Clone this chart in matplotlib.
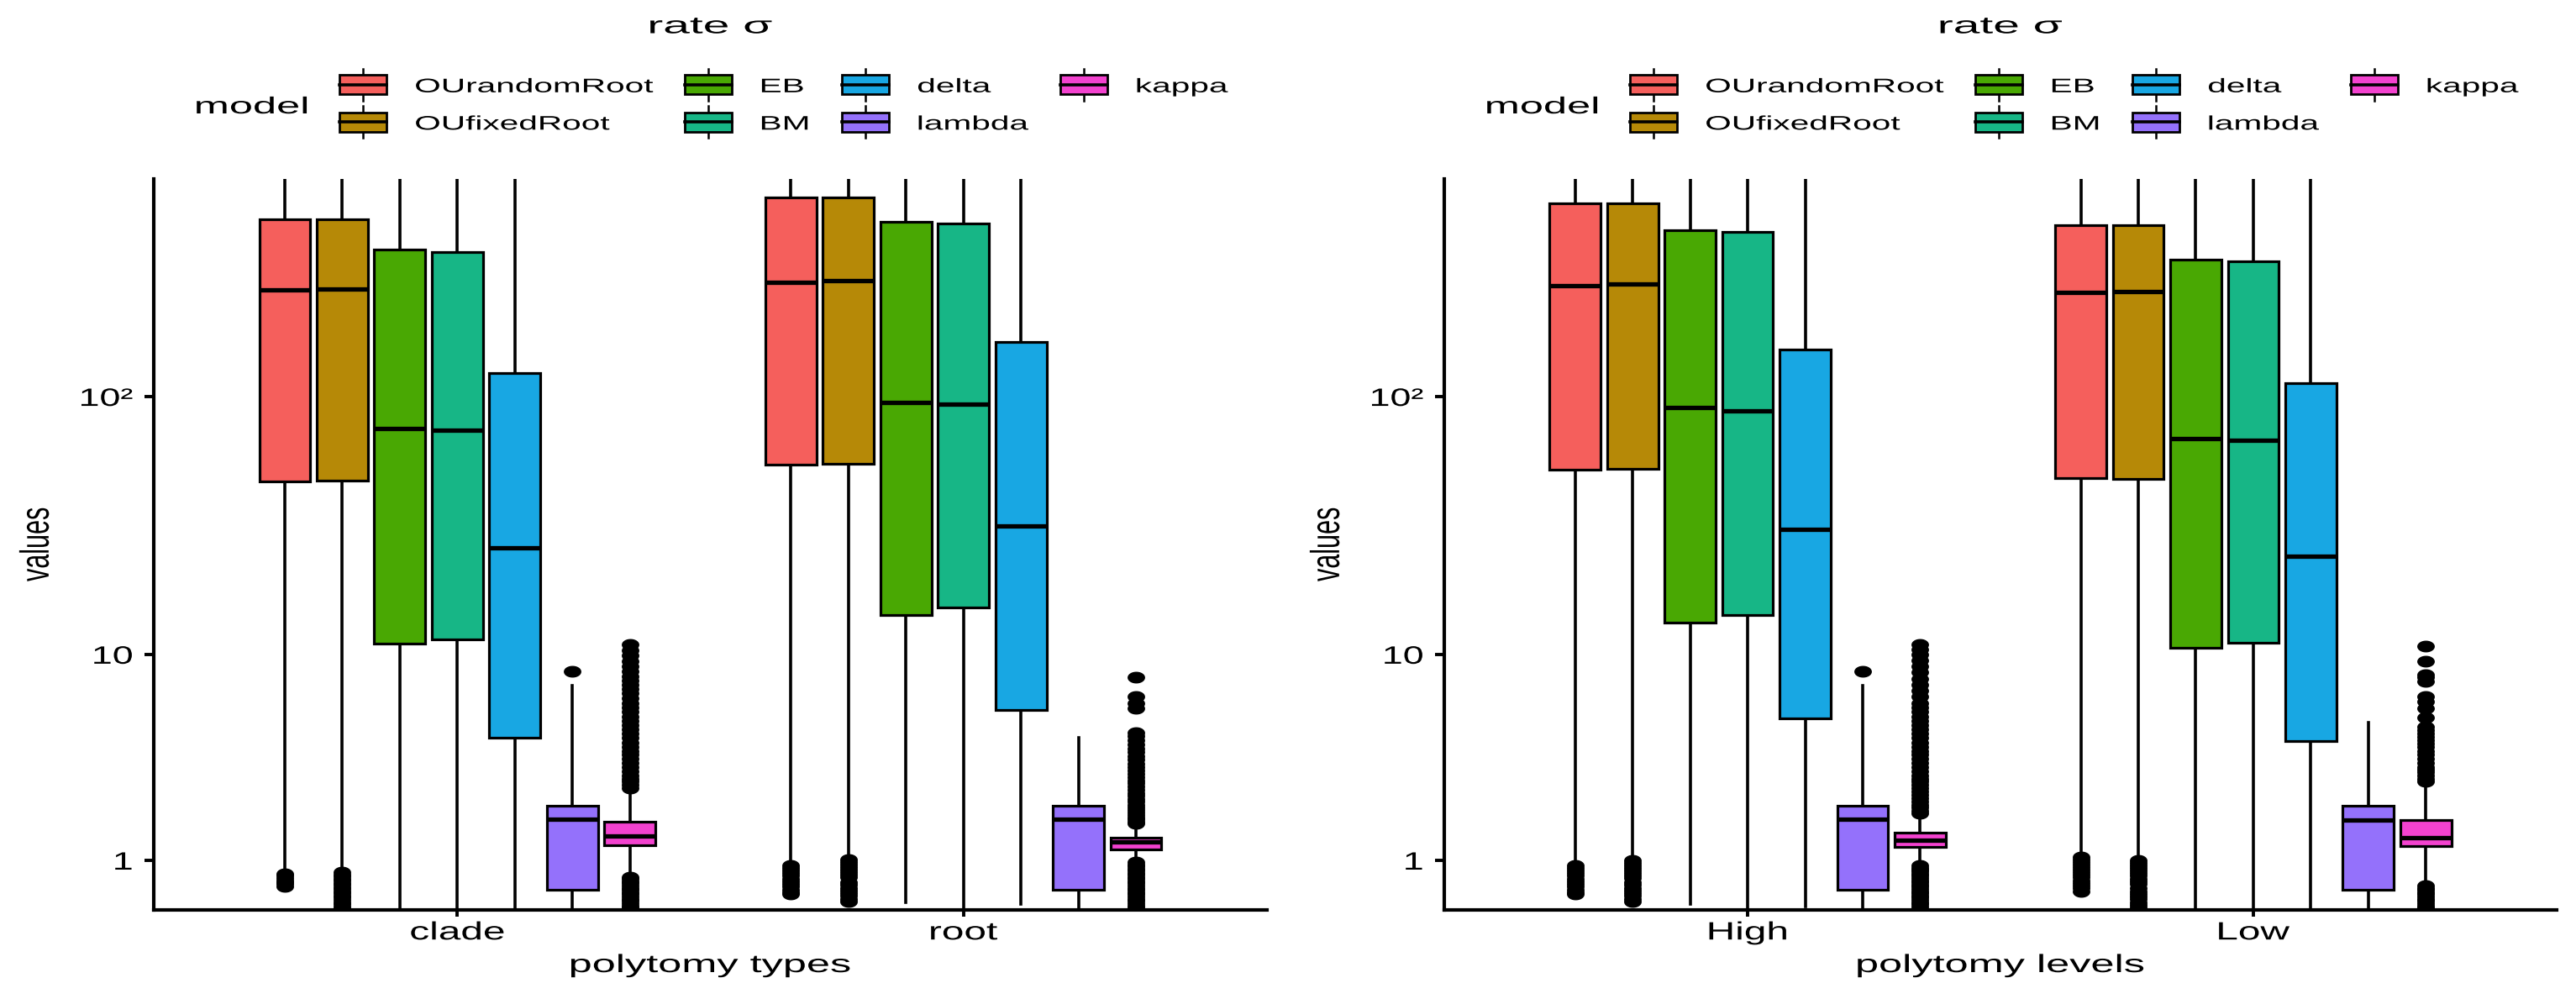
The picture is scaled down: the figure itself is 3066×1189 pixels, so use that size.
import numpy as np
import matplotlib
matplotlib.use("Agg")
import matplotlib.pyplot as plt
from matplotlib.patheffects import AbstractPathEffect
from matplotlib.transforms import Affine2D
from matplotlib.path import Path
from matplotlib.patches import Rectangle
from matplotlib.lines import Line2D
from matplotlib.ticker import NullLocator

W, H = 3066, 1189

# ------------------------------------------------------------------ data
models = ["OUrandomRoot", "OUfixedRoot", "EB", "BM", "delta", "lambda", "kappa"]
colors = ["#F55F5C", "#B68907", "#49A803", "#17B686", "#18A7E3", "#9471FB", "#F342CF"]

left_cats = ["clade", "root"]
right_cats = ["High", "Low"]
y_ticks = [1, 10, 100]
y_ticklabels = ["1", "10", "10\u00b2"]

# whisker ends beyond the visible range are given as 2000 (top) / 0.01 (bottom)
clade_q1 = [46.9, 47.5, 11.0, 11.5, 4.61, 0.45, 1.31]
clade_med = [258, 260, 75.3, 74.2, 26.1, 1.91, 1.52]
clade_q3 = [485, 485, 369, 363, 123, 2.24, 1.85]
clade_lo = [0.77, 0.80, 0.01, 0.01, 0.01, 0.01, 0.71]
clade_hi = [2000, 2000, 2000, 2000, 2000, 7.52, 2.65]
clade_fliers = [
    [0.74, 0.70, 0.66, 0.62, 0.58, 0.55, 0.51],
    [0.77, 0.73, 0.69, 0.65, 0.61, 0.57, 0.53, 0.49, 0.46, 0.42, 0.38, 0.34,
     0.30, 0.26, 0.22, 0.18, 0.14, 0.11],
    [], [], [],
    [8.61],
    [2.75, 2.85, 2.95, 3.05, 3.15, 3.3, 3.45, 3.6, 3.75, 3.9, 4.05, 4.2, 4.4,
     4.6, 4.8, 5.0, 5.2, 5.4, 5.65, 5.9, 6.15, 6.4, 6.7, 7.0, 7.3, 7.6, 7.9,
     8.2, 8.6, 9.0, 9.4, 9.9, 10.4, 10.95,
     0.68, 0.64, 0.60, 0.56, 0.52, 0.48, 0.44, 0.40, 0.36, 0.32, 0.28, 0.24,
     0.20, 0.16, 0.12, 0.09],
]

root_q1 = [54.6, 55.0, 14.29, 15.28, 6.02, 0.45, 1.23]
root_med = [276, 280, 94.9, 93.5, 31.7, 1.91, 1.38]
root_q3 = [589, 589, 473, 467, 163, 2.24, 1.47]
root_lo = [0.93, 1.05, 0.21, 0.01, 0.19, 0.01, 0.99]
root_hi = [2000, 2000, 2000, 2000, 2000, 4.62, 1.77]
root_fliers = [
    [0.90, 0.85, 0.80, 0.75, 0.70, 0.65, 0.60, 0.55, 0.50, 0.45, 0.40, 0.37],
    [1.02, 0.97, 0.92, 0.87, 0.82, 0.77, 0.72, 0.67, 0.58, 0.53, 0.48, 0.43,
     0.38, 0.33, 0.28, 0.23],
    [], [], [], [],
    [1.80, 1.85, 1.9, 1.95, 2.0, 2.07, 2.14, 2.21, 2.28, 2.36, 2.44, 2.52,
     2.6, 2.7, 2.8, 2.9, 3.0, 3.1, 3.2, 3.32, 3.44, 3.56, 3.7, 3.85, 4.0,
     4.15, 4.3, 4.5, 4.7, 4.85, 6.1, 6.4, 6.8, 8.1,
     0.96, 0.92, 0.88, 0.84, 0.80, 0.76, 0.72, 0.68, 0.64, 0.60, 0.56, 0.52,
     0.48, 0.44, 0.40, 0.36, 0.32, 0.28, 0.24, 0.20, 0.16, 0.13],
]

high_q1 = [52.2, 52.5, 13.3, 14.3, 5.55, 0.45, 1.27]
high_med = [268, 272, 90.7, 88.1, 30.7, 1.91, 1.42]
high_q3 = [558, 558, 440, 433, 152, 2.24, 1.58]
high_lo = [0.93, 1.02, 0.19, 0.01, 0.14, 0.01, 0.93]
high_hi = [2000, 2000, 2000, 2000, 2000, 7.52, 2.02]
high_fliers = [
    [0.90, 0.85, 0.80, 0.75, 0.70, 0.65, 0.60, 0.55, 0.50, 0.45, 0.40, 0.37],
    [1.00, 0.95, 0.90, 0.85, 0.80, 0.75, 0.70, 0.66, 0.58, 0.53, 0.48, 0.43,
     0.38, 0.33, 0.28, 0.23],
    [], [], [],
    [8.61],
    [2.05, 2.12, 2.2, 2.28, 2.36, 2.45, 2.55, 2.65, 2.75, 2.85, 2.95, 3.05,
     3.15, 3.3, 3.45, 3.6, 3.75, 3.9, 4.05, 4.2, 4.4, 4.6, 4.8, 5.0, 5.2,
     5.4, 5.65, 5.9, 6.15, 6.4, 6.8, 7.2, 7.6, 8.0, 8.5, 9.0, 9.5, 10.0,
     10.5, 10.95,
     0.90, 0.86, 0.82, 0.78, 0.74, 0.70, 0.66, 0.62, 0.58, 0.54, 0.50, 0.46,
     0.42, 0.38, 0.34, 0.30, 0.26, 0.22, 0.18, 0.14, 0.10],
]

low_q1 = [48.5, 48.0, 10.6, 11.16, 4.47, 0.45, 1.30]
low_med = [252.6, 255, 68.9, 67.8, 24.2, 1.88, 1.48]
low_q3 = [459.5, 460, 338, 333, 113, 2.24, 1.88]
low_lo = [1.09, 1.02, 0.01, 0.01, 0.01, 0.01, 0.555]
low_hi = [2000, 2000, 2000, 2000, 2000, 5.33, 2.91]
low_fliers = [
    [1.07, 1.02, 0.97, 0.92, 0.87, 0.82, 0.77, 0.72, 0.67, 0.62, 0.57, 0.52,
     0.47, 0.42],
    [1.00, 0.95, 0.90, 0.85, 0.80, 0.75, 0.70, 0.65, 0.60, 0.55, 0.47, 0.42,
     0.37, 0.32, 0.27, 0.22, 0.17, 0.12],
    [], [], [], [],
    [2.95, 3.05, 3.15, 3.25, 3.35, 3.45, 3.6, 3.75, 3.9, 4.05, 4.2, 4.35,
     4.5, 4.65, 4.8, 4.95, 5.1, 5.57, 6.1, 6.5, 6.8, 7.8, 8.1, 8.35, 9.37,
     10.8,
     0.52, 0.48, 0.44, 0.40, 0.36, 0.32, 0.28, 0.24, 0.20, 0.16, 0.12, 0.09],
]

# ------------------------------------------------------------------ styling helpers
plt.rcParams["font.family"] = ["Liberation Sans", "DejaVu Sans"]


class HStretch(AbstractPathEffect):
    """Stretch rendered glyphs horizontally (the reference image is widened)."""

    def __init__(self, sx, anchor="center"):
        super().__init__()
        self.sx = sx
        self.anchor = anchor

    def draw_path(self, renderer, gc, tpath, affine, rgbFace=None):
        ext = tpath.get_extents(affine)
        if self.anchor == "left":
            cx = ext.x0
        elif self.anchor == "right":
            cx = ext.x1
        else:
            cx = 0.5 * (ext.x0 + ext.x1)
        aff = affine + Affine2D().translate(-cx, 0).scale(self.sx, 1.0).translate(cx, 0)
        renderer.draw_path(gc, tpath, aff, rgbFace)


theta = np.linspace(0, 2 * np.pi, 49)
ellipse = Path(np.column_stack([np.cos(theta), np.sin(theta) / 1.55]), closed=True)

SLOT = 0.1137
BOXW = 0.101

fig = plt.figure(figsize=(W / 100, H / 100), dpi=100)
fig.patch.set_facecolor("white")


def px_rect(x0, y0, x1, y1):
    return [x0 / W, 1 - y1 / H, (x1 - x0) / W, (y1 - y0) / H]


def draw_panel(x0, x1, cats, groups, xlabel):
    ax = fig.add_axes(px_rect(x0, 213, x1, 1083))
    ax.set_yscale("asinh", linear_width=2)
    for ci, (q1, med, q3, lo, hi, fl) in enumerate(groups):
        stats = [dict(q1=q1[i], med=med[i], q3=q3[i], whislo=lo[i], whishi=hi[i],
                      fliers=np.array(fl[i], dtype=float)) for i in range(len(models))]
        pos = [ci + 1 + (i - 3) * SLOT for i in range(len(models))]
        bp = ax.bxp(stats, positions=pos, widths=BOXW, patch_artist=True,
                    showcaps=False, manage_ticks=False,
                    boxprops=dict(edgecolor="black", linewidth=2.3, zorder=3),
                    medianprops=dict(color="black", linewidth=3.8, zorder=4,
                                     solid_capstyle="butt"),
                    whiskerprops=dict(color="black", linewidth=2.6, zorder=2),
                    flierprops=dict(marker=ellipse, markerfacecolor="black",
                                    markeredgecolor="black", markersize=14,
                                    linestyle="none", zorder=2))
        for b, c in zip(bp["boxes"], colors):
            b.set_facecolor(c)
    ax.set_xlim(0.4, 2.6)
    ax.set_ylim(0.081, 693)
    ax.set_xticks([1, 2], labels=cats)
    ax.set_yticks(y_ticks, labels=y_ticklabels)
    ax.yaxis.set_minor_locator(NullLocator())
    ax.xaxis.set_minor_locator(NullLocator())
    for s in ("top", "right"):
        ax.spines[s].set_visible(False)
    for s in ("left", "bottom"):
        ax.spines[s].set_linewidth(3.0)
        ax.spines[s].set_capstyle("projecting")
    ax.tick_params(axis="y", length=8, width=2.8, pad=10, labelsize=21.5, colors="black")
    ax.tick_params(axis="x", length=5.5, width=2.8, pad=4, labelsize=21.5, colors="black")
    for t in ax.get_yticklabels():
        t.set_path_effects([HStretch(1.5, "right")])
    for t in ax.get_xticklabels():
        t.set_path_effects([HStretch(1.6, "center")])
    ax.set_xlabel(xlabel, fontsize=21.5, va="baseline")
    ax.xaxis.set_label_coords(0.5, (1083 - 1157) / 870)
    ax.xaxis.label.set_path_effects([HStretch(1.69, "center")])
    ax.set_ylabel("values", fontsize=22, va="center")
    ax.yaxis.set_label_coords((43.5 - x0) / (x1 - x0), 0.5)
    ax.yaxis.label.set_path_effects([HStretch(1.58, "center")])
    return ax


ax_left = draw_panel(183, 1508, left_cats,
                     [(clade_q1, clade_med, clade_q3, clade_lo, clade_hi, clade_fliers),
                      (root_q1, root_med, root_q3, root_lo, root_hi, root_fliers)],
                     "polytomy types")
ax_right = draw_panel(1719, 3043, right_cats,
                      [(high_q1, high_med, high_q3, high_lo, high_hi, high_fliers),
                       (low_q1, low_med, low_q3, low_lo, low_hi, low_fliers)],
                      "polytomy levels")
# y label of right panel sits at same offset from its axis
ax_right.yaxis.set_label_coords((1579.5 - 1719) / (3043 - 1719), 0.5)

# ------------------------------------------------------------------ overlay (titles + legends)
ov = fig.add_axes([0, 0, 1, 1], zorder=10)
ov.set_xlim(0, W)
ov.set_ylim(H, 0)
ov.axis("off")

key_cx = [432, 843, 1030, 1290]
key_cy = [100.5, 145]

for dx, panel_cx in ((0, 845.5), (1536, 2381)):
    ov.text(panel_cx, 39.5, "rate \u03c3", ha="center", va="baseline", fontsize=20.5,
            path_effects=[HStretch(2.0, "center")])
    ov.text(299.5 + dx, 135, "model", ha="center", va="baseline", fontsize=20,
            path_effects=[HStretch(1.82, "center")])
    for i, (m, c) in enumerate(zip(models, colors)):
        col, row = divmod(i, 2)
        cx = key_cx[col] + dx
        cy = key_cy[row]
        ov.add_line(Line2D([cx, cx], [cy - 19, cy + 19], color="black", lw=1.8, zorder=1))
        ov.add_patch(Rectangle((cx - 28, cy - 11.5), 56, 23, facecolor=c,
                               edgecolor="black", lw=2.0, zorder=2))
        ov.add_line(Line2D([cx - 28, cx + 28], [cy, cy], color="black", lw=2.6, zorder=3))
        ov.text(cx + 62, cy + 9.3, m, ha="left", va="baseline", fontsize=16.8,
                path_effects=[HStretch(1.74, "left")])

fig.savefig("out.png", dpi=100, facecolor="white")
